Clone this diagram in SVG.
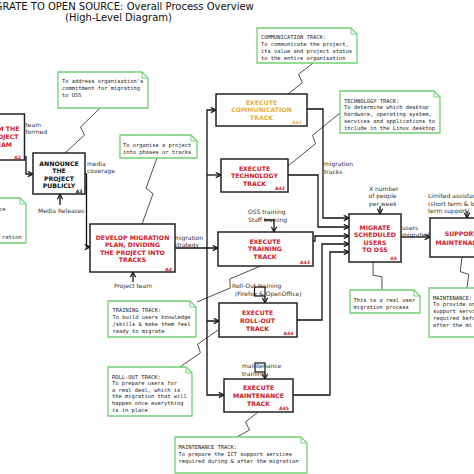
<svg xmlns="http://www.w3.org/2000/svg" width="474" height="474" viewBox="0 0 474 474">
<defs>
<style>
.bg{fill:#fff}
.box{fill:#fff;stroke:#222;stroke-width:1.5}
.note{fill:#fff;stroke:#72d072;stroke-width:1.3}
.fold{fill:none;stroke:#72d072;stroke-width:1}
.nt{font-family:"DejaVu Sans Mono","Liberation Mono",monospace;font-size:5.4px;fill:#222}
.bt{font-family:"DejaVu Sans","Liberation Sans",sans-serif;font-size:6.2px;font-weight:bold;text-anchor:middle}
.red{fill:#d0202c}
.gold{fill:#e8b23a}
.blk{fill:#111}
.id{font-family:"DejaVu Sans","Liberation Sans",sans-serif;font-size:4.6px;font-weight:bold;text-anchor:end}
.lb{font-family:"DejaVu Sans","Liberation Sans",sans-serif;font-size:6px;fill:#333}
.title{font-family:"DejaVu Sans","Liberation Sans",sans-serif;font-size:10px;fill:#111;text-anchor:middle}
.con{fill:none;stroke:#111;stroke-width:1.3}
.zz{fill:none;stroke:#222;stroke-width:0.8}
</style>
<marker id="arr" viewBox="0 0 8 8" refX="7" refY="4" markerWidth="7" markerHeight="7" markerUnits="userSpaceOnUse" orient="auto">
<path d="M1,1 L7,4 L1,7" fill="none" stroke="#111" stroke-width="1.3"/>
</marker>
</defs>
<rect class="bg" x="0" y="0" width="474" height="474"/>

<g id="title">
<text class="title" x="118.5" y="9.5">MIGRATE TO OPEN SOURCE: Overall Process Overview</text>
<text class="title" x="118.5" y="21">(High-Level Diagram)</text>
</g>

<g id="connectors">
<path class="con" d="M24,157 H26 V174 H33" marker-end="url(#arr)"/>
<path class="con" d="M85,174 H86.5 V247 H90" marker-end="url(#arr)"/>
<path class="con" d="M60,205 V194" marker-end="url(#arr)"/>
<path class="con" d="M133,282 V272" marker-end="url(#arr)"/>
<path class="con" d="M175,248 H218" marker-end="url(#arr)"/>
<path class="con" d="M207,248 V110 H216" marker-end="url(#arr)"/>
<path class="con" d="M207,175 H221" marker-end="url(#arr)"/>
<path class="con" d="M207,248 V321 H219" marker-end="url(#arr)"/>
<path class="con" d="M207,321 V395 H224" marker-end="url(#arr)"/>
<path class="con" d="M264,220 H274 V232" marker-end="url(#arr)"/>
<rect x="254.5" y="287" width="10.5" height="9" fill="none" stroke="#111" stroke-width="1.2"/>
<path class="con" d="M265,296 V303" marker-end="url(#arr)"/>
<rect x="255" y="363" width="10" height="9" fill="none" stroke="#111" stroke-width="1.2"/>
<path class="con" d="M265,372 V379" marker-end="url(#arr)"/>
<path class="con" d="M307,109 H323 V218 H349" marker-end="url(#arr)"/>
<path class="con" d="M288,175 H318 V227 H349" marker-end="url(#arr)"/>
<path class="con" d="M313,241 H315 V236 H349" marker-end="url(#arr)"/>
<path class="con" d="M297,320 H322 V244 H349" marker-end="url(#arr)"/>
<path class="con" d="M293,395 H330 V252 H349" marker-end="url(#arr)"/>
<path class="con" d="M380,206 V214" marker-end="url(#arr)"/>
<path class="con" d="M401,237 H430" marker-end="url(#arr)"/>
<path class="con" d="M467,211 V218" marker-end="url(#arr)"/>
<path class="zz" d="M100,108 L80.5,127 L84.5,135 L65,153"/>
<path class="zz" d="M313,63 L298.6,74.4 L302.4,82.6 L288,94"/>
<path class="zz" d="M340,113 L312.5,135.3 L315.5,143.7 L288,166"/>
<path class="zz" d="M157,158 L146,188.2 L153,193.8 L142,224"/>
<path class="zz" d="M197,302 L230.2,288 L229.8,279 L263,265"/>
<path class="zz" d="M180,367 L200.4,352.8 L197.6,344.2 L218,330"/>
<path class="zz" d="M237,437 L249.5,430 L245.5,422 L258,412"/>
<path class="zz" d="M382,290 L381.9,276.7 L373.1,275.3 L373,262"/>
<path class="zz" d="M462,257 L460.2,271.6 L468.8,274.4 L467,288"/>
</g>

<g id="labels">
<text class="lb" x="25.5" y="126.5">team</text>
<text class="lb" x="25.5" y="134">formed</text>
<text class="lb" x="87" y="165.5">media</text>
<text class="lb" x="87" y="173">coverage</text>
<text class="lb" x="38" y="213">Media Releases</text>
<text class="lb" x="114" y="288">Project team</text>
<text class="lb" x="174" y="239.5">migration</text>
<text class="lb" x="174" y="246.5">strategy</text>
<text class="lb" x="324" y="166">migration</text>
<text class="lb" x="324" y="174">tracks</text>
<text class="lb" x="248" y="214">OSS training</text>
<text class="lb" x="248" y="221.5">Staff training</text>
<text class="lb" x="232" y="288">Roll-Out training</text>
<text class="lb" x="235" y="295.5">(Firefox &amp; OpenOffice)</text>
<text class="lb" x="242" y="368">maintenance</text>
<text class="lb" x="242" y="375.5">training</text>
<text class="lb" x="369" y="190.5">X number</text>
<text class="lb" x="368.5" y="198">of people</text>
<text class="lb" x="369" y="205.5">per week</text>
<text class="lb" x="402" y="229.5">users</text>
<text class="lb" x="402" y="236.5">migrated</text>
<text class="lb" x="428" y="197.5">Limited assistance</text>
<text class="lb" x="428" y="205.5">(short term &amp; long</text>
<text class="lb" x="428" y="212.5">term support)</text>
</g>

<g id="A2">
<rect class="box" x="-30" y="114" width="54.5" height="46"/>
<text class="bt red" x="19.5" y="131" text-anchor="end" style="text-anchor:end">FORM THE</text>
<text class="bt red" x="18.5" y="139" style="text-anchor:end">PROJECT</text>
<text class="bt red" x="12" y="146.5" style="text-anchor:end">TEAM</text>
<text class="id red" x="21" y="159">A2</text>
</g>
<g id="A3">
<rect class="box" x="33" y="153" width="52" height="41"/>
<text class="bt blk" x="59" y="165.5">ANNOUNCE</text>
<text class="bt blk" x="59" y="173">THE</text>
<text class="bt blk" x="59" y="180.5">PROJECT</text>
<text class="bt blk" x="59" y="188">PUBLICLY</text>
<text class="id blk" x="82.5" y="192.5">A3</text>
</g>
<g id="A4">
<rect class="box" x="90" y="224" width="85" height="48"/>
<text class="bt red" x="132.5" y="239.5">DEVELOP MIGRATION</text>
<text class="bt red" x="132.5" y="247">PLAN, DIVIDING</text>
<text class="bt red" x="132.5" y="254.5">THE PROJECT INTO</text>
<text class="bt red" x="132.5" y="262">TRACKS</text>
<text class="id red" x="172" y="270.5">A4</text>
</g>
<g id="A41">
<rect class="box" x="216" y="94" width="91" height="32"/>
<text class="bt gold" x="261.5" y="104.5">EXECUTE</text>
<text class="bt gold" x="261.5" y="112">COMMUNICATION</text>
<text class="bt gold" x="261.5" y="119.5">TRACK</text>
<text class="id gold" x="302" y="123.5">A41</text>
</g>
<g id="A42">
<rect class="box" x="221" y="159" width="67" height="33"/>
<text class="bt red" x="254.5" y="170.5">EXECUTE</text>
<text class="bt red" x="254.5" y="177.5">TECHNOLOGY</text>
<text class="bt red" x="254.5" y="185.5">TRACK</text>
<text class="id red" x="285" y="190">A42</text>
</g>
<g id="A43">
<rect class="box" x="218" y="232" width="95" height="34"/>
<text class="bt red" x="265" y="243.5">EXECUTE</text>
<text class="bt red" x="265" y="250.5">TRAINING</text>
<text class="bt red" x="265" y="258.5">TRACK</text>
<text class="id red" x="310" y="263.5">A43</text>
</g>
<g id="A44">
<rect class="box" x="219" y="303" width="78" height="34"/>
<text class="bt red" x="257.5" y="314.5">EXECUTE</text>
<text class="bt red" x="257.5" y="322.5">ROLL-OUT</text>
<text class="bt red" x="257.5" y="330.5">TRACK</text>
<text class="id red" x="293.5" y="335">A44</text>
</g>
<g id="A45">
<rect class="box" x="224" y="379" width="69" height="33"/>
<text class="bt red" x="258.5" y="389.5">EXECUTE</text>
<text class="bt red" x="258.5" y="397.5">MAINTENANCE</text>
<text class="bt red" x="258.5" y="405.5">TRACK</text>
<text class="id red" x="289" y="410">A45</text>
</g>
<g id="A5">
<rect class="box" x="349" y="214" width="52" height="48"/>
<text class="bt red" x="375" y="229.5">MIGRATE</text>
<text class="bt red" x="375" y="236.5">SCHEDULED</text>
<text class="bt red" x="375" y="244.5">USERS</text>
<text class="bt red" x="375" y="251.5">TO OSS</text>
<text class="id red" x="397" y="260">A5</text>
</g>
<g id="support">
<rect class="box" x="430" y="218" width="64" height="39"/>
<text class="bt red" x="461" y="235.5">SUPPORT</text>
<text class="bt red" x="461" y="244.5">MAINTENANCE</text>
</g>

<g id="note-commitment">
<path class="note" d="M58,72 H142 L148,78 V108 H58 Z"/><path class="fold" d="M142,72 V78 H148"/>
<text class="nt" x="62" y="83"><tspan x="62">To address organisation's</tspan><tspan x="62" dy="7.2">commitment for migrating</tspan><tspan x="62" dy="7.2">to OSS</tspan></text>
</g>
<g id="note-communication">
<path class="note" d="M257,28 H351 L357,34 V63 H257 Z"/><path class="fold" d="M351,28 V34 H357"/>
<text class="nt" x="261" y="38.5"><tspan x="261">COMMUNICATION TRACK:</tspan><tspan x="261" dy="7">To communicate the project,</tspan><tspan x="261" dy="7">its value and project status</tspan><tspan x="261" dy="7">to the entire organisation</tspan></text>
</g>
<g id="note-technology">
<path class="note" d="M340,91 H434 L440,97 V133 H340 Z"/><path class="fold" d="M434,91 V97 H440"/>
<text class="nt" x="344" y="102.5"><tspan x="344">TECHNOLOGY TRACK:</tspan><tspan x="344" dy="6.8">To determine which desktop</tspan><tspan x="344" dy="6.8">hardware, operating system,</tspan><tspan x="344" dy="6.8">services and applications to</tspan><tspan x="344" dy="6.8">include in the Linux desktop</tspan></text>
</g>
<g id="note-organise">
<path class="note" d="M120,135 H191 L197,141 V158 H120 Z"/><path class="fold" d="M191,135 V141 H197"/>
<text class="nt" x="123" y="146.5"><tspan x="123">To organise a project</tspan><tspan x="123" dy="7">into phases or tracks</tspan></text>
</g>
<g id="note-left">
<path class="note" d="M-10,198 H20 L26,204 V243 H-10 Z"/><path class="fold" d="M20,198 V204 H26"/>
<text class="nt" x="5.5" y="211" text-anchor="end">ce</text>
<text class="nt" x="21.5" y="239" text-anchor="end">ration</text>
</g>
<g id="note-training">
<path class="note" d="M108,301 H190 L196,307 V337 H108 Z"/><path class="fold" d="M190,301 V307 H196"/>
<text class="nt" x="112.5" y="311.5"><tspan x="112.5">TRAINING TRACK:</tspan><tspan x="112.5" dy="7">To build users knowledge</tspan><tspan x="112.5" dy="7">/skills &amp; make them feel</tspan><tspan x="112.5" dy="7">ready to migrate</tspan></text>
</g>
<g id="note-rollout">
<path class="note" d="M108,367 H186 L192,373 V416 H108 Z"/><path class="fold" d="M186,367 V373 H192"/>
<text class="nt" x="112" y="378.5"><tspan x="112">ROLL-OUT TRACK:</tspan><tspan x="112" dy="6.6">To prepare users for</tspan><tspan x="112" dy="6.6">a real deal, which is</tspan><tspan x="112" dy="6.6">the migration that will</tspan><tspan x="112" dy="6.6">happen once everything</tspan><tspan x="112" dy="6.6">is in place</tspan></text>
</g>
<g id="note-maintenance-track">
<path class="note" d="M175,437 H301 L307,443 V473 H175 Z"/><path class="fold" d="M301,437 V443 H307"/>
<text class="nt" x="178.5" y="448.5"><tspan x="178.5">MAINTENANCE TRACK:</tspan><tspan x="178.5" dy="7">To prepare the ICT support services</tspan><tspan x="178.5" dy="7">required during &amp; after the migration</tspan></text>
</g>
<g id="note-real-user">
<path class="note" d="M350,290 H414 L420,296 V313 H350 Z"/><path class="fold" d="M414,290 V296 H420"/>
<text class="nt" x="353.5" y="301.5"><tspan x="353.5">This is a real user</tspan><tspan x="353.5" dy="7">migration process</tspan></text>
</g>
<g id="note-maintenance">
<path class="note" d="M429,288 H483 L489,294 V337 H429 Z"/>
<text class="nt" x="433" y="299.5"><tspan x="433">MAINTENANCE:</tspan><tspan x="433" dy="6.8">To provide on</tspan><tspan x="433" dy="6.8">support servi</tspan><tspan x="433" dy="6.8">required befo</tspan><tspan x="433" dy="6.8">after the mi</tspan></text>
</g>
</svg>
